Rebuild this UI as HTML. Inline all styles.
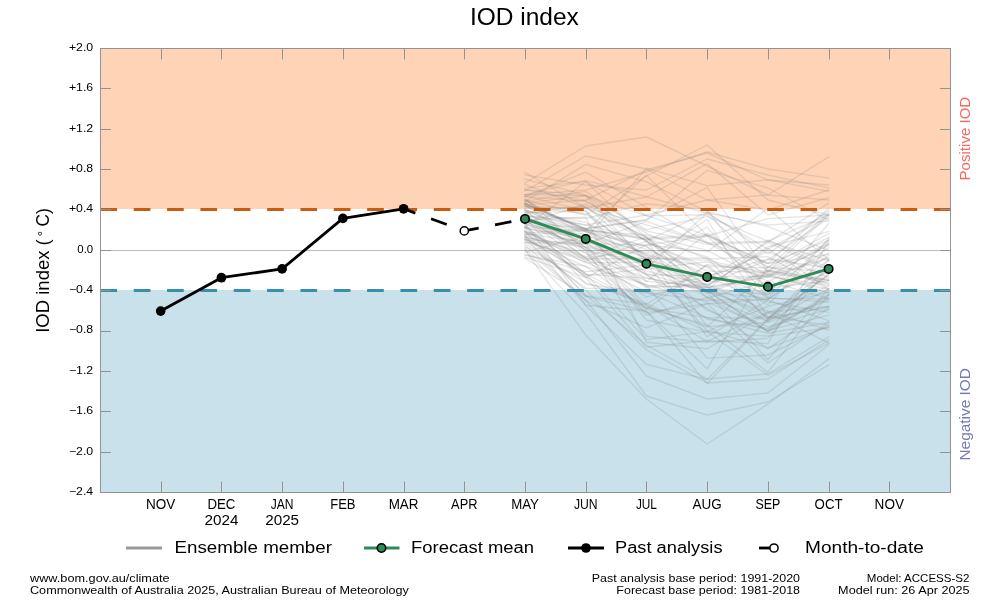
<!DOCTYPE html>
<html lang="en">
<head>
<meta charset="utf-8">
<title>IOD index</title>
<style>html,body{margin:0;padding:0;background:#fff;}body{width:1000px;height:600px;overflow:hidden;font-family:"Liberation Sans",sans-serif;}svg{display:block;will-change:transform;}</style>
</head>
<body>
<svg width="1000" height="600" viewBox="0 0 1000 600" font-family="'Liberation Sans', sans-serif">
<rect width="1000" height="600" fill="#fff"/>
<rect x="100.0" y="48.0" width="850.0" height="161.00" fill="#ffd3b5"/>
<rect x="100.0" y="290.00" width="850.0" height="202.00" fill="#c8e1ea"/>
<line x1="100.0" x2="950.0" y1="250.5" y2="250.5" stroke="#bcbcbc" stroke-width="1"/>
<g fill="none" stroke="#808080" stroke-opacity="0.2" stroke-width="1.4" stroke-linejoin="round" stroke-linecap="square">
<path d="M525.0,183.0 L585.7,146.0 L646.4,137.0 L707.1,166.0 L767.9,195.0 L828.6,200.0"/>
<path d="M525.0,191.0 L585.7,156.0 L646.4,169.0 L707.1,200.0 L767.9,210.0 L828.6,190.0"/>
<path d="M525.0,200.0 L585.7,215.0 L646.4,176.0 L707.1,145.0 L767.9,200.0 L828.6,215.0"/>
<path d="M525.0,195.0 L585.7,190.0 L646.4,172.0 L707.1,152.0 L767.9,169.0 L828.6,178.0"/>
<path d="M525.0,205.0 L585.7,200.0 L646.4,170.0 L707.1,153.0 L767.9,180.0 L828.6,185.0"/>
<path d="M525.0,215.0 L585.7,225.0 L646.4,215.0 L707.1,200.0 L767.9,195.0 L828.6,157.0"/>
<path d="M525.0,175.0 L585.7,185.0 L646.4,190.0 L707.1,159.0 L767.9,175.0 L828.6,188.0"/>
<path d="M525.0,250.0 L585.7,335.0 L646.4,399.0 L707.1,444.0 L767.9,404.0 L828.6,359.0"/>
<path d="M525.0,250.0 L585.7,313.0 L646.4,396.0 L707.1,415.0 L767.9,402.0 L828.6,365.0"/>
<path d="M525.0,245.0 L585.7,300.0 L646.4,376.0 L707.1,399.0 L767.9,393.0 L828.6,345.0"/>
<path d="M525.0,240.0 L585.7,290.0 L646.4,350.0 L707.1,383.0 L767.9,379.0 L828.6,340.0"/>
<path d="M525.0,235.0 L585.7,295.0 L646.4,345.0 L707.1,379.0 L767.9,374.0 L828.6,337.0"/>
<path d="M525.0,200.3 L585.7,231.9 L646.4,246.3 L707.1,285.6 L767.9,248.7 L828.6,288.6"/>
<path d="M525.0,238.5 L585.7,273.7 L646.4,339.6 L707.1,331.6 L767.9,375.3 L828.6,343.1"/>
<path d="M525.0,254.4 L585.7,271.7 L646.4,265.0 L707.1,330.4 L767.9,347.8 L828.6,326.7"/>
<path d="M525.0,239.7 L585.7,243.8 L646.4,271.2 L707.1,284.5 L767.9,259.9 L828.6,217.9"/>
<path d="M525.0,189.6 L585.7,200.7 L646.4,240.8 L707.1,271.1 L767.9,272.4 L828.6,243.2"/>
<path d="M525.0,203.5 L585.7,228.5 L646.4,220.2 L707.1,170.3 L767.9,188.0 L828.6,220.1"/>
<path d="M525.0,234.9 L585.7,258.6 L646.4,312.6 L707.1,303.7 L767.9,299.3 L828.6,260.2"/>
<path d="M525.0,239.2 L585.7,266.7 L646.4,284.7 L707.1,302.1 L767.9,326.8 L828.6,309.2"/>
<path d="M525.0,233.3 L585.7,228.8 L646.4,239.9 L707.1,326.7 L767.9,270.4 L828.6,279.7"/>
<path d="M525.0,184.5 L585.7,207.9 L646.4,237.0 L707.1,286.7 L767.9,246.8 L828.6,231.6"/>
<path d="M525.0,241.8 L585.7,259.3 L646.4,285.3 L707.1,358.1 L767.9,355.0 L828.6,325.5"/>
<path d="M525.0,216.6 L585.7,218.5 L646.4,203.7 L707.1,209.6 L767.9,290.5 L828.6,247.8"/>
<path d="M525.0,223.8 L585.7,246.7 L646.4,259.6 L707.1,219.5 L767.9,317.6 L828.6,268.3"/>
<path d="M525.0,206.1 L585.7,213.9 L646.4,256.5 L707.1,287.8 L767.9,276.8 L828.6,244.5"/>
<path d="M525.0,218.7 L585.7,239.9 L646.4,274.7 L707.1,276.1 L767.9,259.0 L828.6,267.9"/>
<path d="M525.0,228.1 L585.7,238.5 L646.4,274.5 L707.1,319.2 L767.9,328.4 L828.6,298.3"/>
<path d="M525.0,227.1 L585.7,231.1 L646.4,273.3 L707.1,291.9 L767.9,298.4 L828.6,299.1"/>
<path d="M525.0,212.4 L585.7,211.4 L646.4,259.7 L707.1,277.6 L767.9,275.8 L828.6,289.6"/>
<path d="M525.0,198.3 L585.7,250.8 L646.4,261.4 L707.1,227.0 L767.9,297.8 L828.6,239.8"/>
<path d="M525.0,219.9 L585.7,249.3 L646.4,308.8 L707.1,324.6 L767.9,372.4 L828.6,294.4"/>
<path d="M525.0,223.9 L585.7,203.9 L646.4,238.0 L707.1,234.8 L767.9,263.6 L828.6,254.5"/>
<path d="M525.0,196.4 L585.7,201.3 L646.4,230.9 L707.1,244.2 L767.9,242.2 L828.6,203.3"/>
<path d="M525.0,203.0 L585.7,195.8 L646.4,263.0 L707.1,297.0 L767.9,321.5 L828.6,274.5"/>
<path d="M525.0,228.1 L585.7,277.8 L646.4,244.7 L707.1,251.6 L767.9,208.5 L828.6,259.7"/>
<path d="M525.0,201.3 L585.7,164.4 L646.4,181.9 L707.1,211.6 L767.9,226.6 L828.6,250.7"/>
<path d="M525.0,237.1 L585.7,252.6 L646.4,297.1 L707.1,278.3 L767.9,242.4 L828.6,270.3"/>
<path d="M525.0,213.0 L585.7,240.2 L646.4,265.8 L707.1,292.4 L767.9,359.8 L828.6,288.8"/>
<path d="M525.0,196.7 L585.7,172.2 L646.4,207.3 L707.1,242.7 L767.9,275.1 L828.6,245.3"/>
<path d="M525.0,179.2 L585.7,195.1 L646.4,229.6 L707.1,216.6 L767.9,241.1 L828.6,260.7"/>
<path d="M525.0,236.9 L585.7,275.6 L646.4,268.9 L707.1,261.8 L767.9,276.9 L828.6,258.9"/>
<path d="M525.0,258.0 L585.7,296.4 L646.4,311.0 L707.1,368.8 L767.9,266.4 L828.6,284.0"/>
<path d="M525.0,203.7 L585.7,229.7 L646.4,238.7 L707.1,256.8 L767.9,297.8 L828.6,302.1"/>
<path d="M525.0,199.7 L585.7,235.7 L646.4,258.1 L707.1,290.7 L767.9,331.1 L828.6,266.0"/>
<path d="M525.0,231.1 L585.7,256.6 L646.4,237.1 L707.1,281.9 L767.9,275.3 L828.6,257.5"/>
<path d="M525.0,215.5 L585.7,253.1 L646.4,315.0 L707.1,297.4 L767.9,330.8 L828.6,294.3"/>
<path d="M525.0,210.5 L585.7,225.1 L646.4,239.4 L707.1,236.3 L767.9,288.3 L828.6,280.9"/>
<path d="M525.0,220.0 L585.7,261.1 L646.4,241.4 L707.1,278.6 L767.9,251.6 L828.6,277.8"/>
<path d="M525.0,233.8 L585.7,242.1 L646.4,274.8 L707.1,308.1 L767.9,348.7 L828.6,308.5"/>
<path d="M525.0,230.6 L585.7,262.9 L646.4,262.2 L707.1,290.7 L767.9,332.1 L828.6,295.5"/>
<path d="M525.0,208.1 L585.7,207.8 L646.4,240.8 L707.1,212.2 L767.9,253.9 L828.6,210.8"/>
<path d="M525.0,235.1 L585.7,230.5 L646.4,235.3 L707.1,250.4 L767.9,281.6 L828.6,253.2"/>
<path d="M525.0,215.3 L585.7,247.4 L646.4,281.4 L707.1,286.7 L767.9,321.2 L828.6,288.8"/>
<path d="M525.0,236.4 L585.7,305.4 L646.4,364.4 L707.1,379.5 L767.9,318.9 L828.6,273.9"/>
<path d="M525.0,172.3 L585.7,207.7 L646.4,197.0 L707.1,163.6 L767.9,214.8 L828.6,197.7"/>
<path d="M525.0,189.6 L585.7,195.4 L646.4,242.0 L707.1,267.3 L767.9,305.1 L828.6,238.8"/>
<path d="M525.0,218.6 L585.7,243.1 L646.4,245.1 L707.1,236.0 L767.9,218.6 L828.6,215.1"/>
<path d="M525.0,188.1 L585.7,181.4 L646.4,215.7 L707.1,235.2 L767.9,270.7 L828.6,237.3"/>
<path d="M525.0,227.7 L585.7,244.0 L646.4,221.3 L707.1,242.6 L767.9,263.6 L828.6,240.4"/>
<path d="M525.0,232.2 L585.7,257.7 L646.4,250.6 L707.1,290.3 L767.9,240.0 L828.6,268.0"/>
<path d="M525.0,227.1 L585.7,181.7 L646.4,237.5 L707.1,298.0 L767.9,281.2 L828.6,298.6"/>
<path d="M525.0,246.7 L585.7,282.6 L646.4,303.6 L707.1,331.4 L767.9,306.4 L828.6,292.2"/>
<path d="M525.0,242.5 L585.7,243.8 L646.4,320.0 L707.1,332.1 L767.9,336.1 L828.6,327.8"/>
<path d="M525.0,224.4 L585.7,234.9 L646.4,252.9 L707.1,293.4 L767.9,270.8 L828.6,280.6"/>
<path d="M525.0,213.4 L585.7,205.7 L646.4,258.4 L707.1,258.0 L767.9,319.8 L828.6,260.2"/>
<path d="M525.0,219.9 L585.7,217.1 L646.4,342.2 L707.1,348.8 L767.9,313.2 L828.6,286.0"/>
<path d="M525.0,194.6 L585.7,180.4 L646.4,196.7 L707.1,213.3 L767.9,249.2 L828.6,216.8"/>
<path d="M525.0,210.1 L585.7,258.8 L646.4,258.8 L707.1,260.1 L767.9,274.2 L828.6,292.9"/>
<path d="M525.0,218.0 L585.7,284.1 L646.4,292.8 L707.1,300.3 L767.9,299.3 L828.6,255.4"/>
<path d="M525.0,194.6 L585.7,195.7 L646.4,215.9 L707.1,214.7 L767.9,267.5 L828.6,271.3"/>
<path d="M525.0,225.9 L585.7,273.5 L646.4,306.6 L707.1,326.8 L767.9,322.3 L828.6,300.4"/>
<path d="M525.0,210.2 L585.7,222.4 L646.4,255.4 L707.1,266.6 L767.9,267.8 L828.6,213.0"/>
<path d="M525.0,201.2 L585.7,191.3 L646.4,233.4 L707.1,259.0 L767.9,256.6 L828.6,289.8"/>
<path d="M525.0,211.5 L585.7,230.4 L646.4,258.5 L707.1,310.4 L767.9,330.4 L828.6,315.3"/>
<path d="M525.0,220.9 L585.7,250.0 L646.4,336.2 L707.1,342.2 L767.9,338.2 L828.6,268.2"/>
<path d="M525.0,237.4 L585.7,247.3 L646.4,305.2 L707.1,341.7 L767.9,312.0 L828.6,306.6"/>
<path d="M525.0,215.1 L585.7,230.8 L646.4,175.3 L707.1,235.5 L767.9,263.1 L828.6,208.2"/>
<path d="M525.0,216.6 L585.7,257.8 L646.4,277.6 L707.1,290.6 L767.9,273.5 L828.6,280.2"/>
<path d="M525.0,206.7 L585.7,207.9 L646.4,224.9 L707.1,242.6 L767.9,241.3 L828.6,214.9"/>
<path d="M525.0,252.1 L585.7,236.5 L646.4,285.7 L707.1,287.5 L767.9,276.5 L828.6,285.2"/>
<path d="M525.0,222.0 L585.7,228.8 L646.4,246.6 L707.1,287.6 L767.9,294.7 L828.6,223.6"/>
<path d="M525.0,257.1 L585.7,277.3 L646.4,347.3 L707.1,340.5 L767.9,343.6 L828.6,241.5"/>
<path d="M525.0,255.2 L585.7,266.2 L646.4,309.2 L707.1,264.6 L767.9,271.3 L828.6,283.0"/>
<path d="M525.0,204.5 L585.7,247.7 L646.4,287.9 L707.1,284.2 L767.9,311.0 L828.6,330.0"/>
<path d="M525.0,231.3 L585.7,296.0 L646.4,304.5 L707.1,264.8 L767.9,318.6 L828.6,275.3"/>
<path d="M525.0,240.2 L585.7,261.9 L646.4,292.0 L707.1,317.7 L767.9,333.3 L828.6,322.4"/>
<path d="M525.0,248.3 L585.7,300.8 L646.4,327.9 L707.1,303.3 L767.9,363.0 L828.6,322.3"/>
<path d="M525.0,205.8 L585.7,229.1 L646.4,268.8 L707.1,212.9 L767.9,225.0 L828.6,221.2"/>
<path d="M525.0,231.9 L585.7,276.6 L646.4,308.0 L707.1,317.6 L767.9,317.9 L828.6,307.2"/>
<path d="M525.0,226.3 L585.7,274.4 L646.4,278.1 L707.1,289.4 L767.9,316.5 L828.6,325.3"/>
<path d="M525.0,196.0 L585.7,210.7 L646.4,281.6 L707.1,233.2 L767.9,267.5 L828.6,233.6"/>
<path d="M525.0,203.1 L585.7,230.0 L646.4,249.3 L707.1,274.4 L767.9,294.0 L828.6,272.3"/>
<path d="M525.0,223.4 L585.7,305.2 L646.4,311.3 L707.1,383.7 L767.9,319.4 L828.6,306.4"/>
<path d="M525.0,204.0 L585.7,228.7 L646.4,219.7 L707.1,187.3 L767.9,272.1 L828.6,214.7"/>
<path d="M525.0,218.7 L585.7,231.6 L646.4,254.0 L707.1,336.9 L767.9,300.1 L828.6,320.7"/>
<path d="M525.0,242.9 L585.7,288.2 L646.4,289.6 L707.1,291.3 L767.9,312.6 L828.6,342.7"/>
<path d="M525.0,209.3 L585.7,238.9 L646.4,168.1 L707.1,185.7 L767.9,179.8 L828.6,191.2"/>
<path d="M525.0,218.5 L585.7,242.6 L646.4,286.9 L707.1,277.2 L767.9,301.7 L828.6,312.2"/>
</g>
<line x1="100.0" x2="950.0" y1="209.5" y2="209.5" stroke="#c95d0f" stroke-width="3" stroke-dasharray="16.67 16.67" stroke-dashoffset="-0.4"/>
<line x1="100.0" x2="950.0" y1="290.5" y2="290.5" stroke="#3490ad" stroke-width="3" stroke-dasharray="16.67 16.67" stroke-dashoffset="-0.4"/>
<g stroke="#939393" stroke-width="1" fill="none">
<rect x="100.5" y="48.5" width="850.0" height="444.0"/>
<path d="M161.5,492.5 v-11 M161.5,48.5 v11"/>
<path d="M221.5,492.5 v-11 M221.5,48.5 v11"/>
<path d="M282.5,492.5 v-11 M282.5,48.5 v11"/>
<path d="M343.5,492.5 v-11 M343.5,48.5 v11"/>
<path d="M404.5,492.5 v-11 M404.5,48.5 v11"/>
<path d="M464.5,492.5 v-11 M464.5,48.5 v11"/>
<path d="M525.5,492.5 v-11 M525.5,48.5 v11"/>
<path d="M586.5,492.5 v-11 M586.5,48.5 v11"/>
<path d="M646.5,492.5 v-11 M646.5,48.5 v11"/>
<path d="M707.5,492.5 v-11 M707.5,48.5 v11"/>
<path d="M768.5,492.5 v-11 M768.5,48.5 v11"/>
<path d="M829.5,492.5 v-11 M829.5,48.5 v11"/>
<path d="M889.5,492.5 v-11 M889.5,48.5 v11"/>
<path d="M100.5,88.5 h10.5 M950.5,88.5 h-10.5"/>
<path d="M100.5,129.5 h10.5 M950.5,129.5 h-10.5"/>
<path d="M100.5,169.5 h10.5 M950.5,169.5 h-10.5"/>
<path d="M100.5,209.5 h10.5 M950.5,209.5 h-10.5"/>
<path d="M100.5,250.5 h10.5 M950.5,250.5 h-10.5"/>
<path d="M100.5,290.5 h10.5 M950.5,290.5 h-10.5"/>
<path d="M100.5,331.5 h10.5 M950.5,331.5 h-10.5"/>
<path d="M100.5,371.5 h10.5 M950.5,371.5 h-10.5"/>
<path d="M100.5,411.5 h10.5 M950.5,411.5 h-10.5"/>
<path d="M100.5,452.5 h10.5 M950.5,452.5 h-10.5"/>
</g>
<path d="M160.7,311.1 L221.4,277.7 L282.1,268.9 L342.9,218.4 L403.6,208.8" fill="none" stroke="#000" stroke-width="2.8" stroke-linejoin="round"/>
<path d="M403.6,208.8 L464.3,230.9 L525.0,218.9" fill="none" stroke="#000" stroke-width="2.8" stroke-dasharray="16.67 16.67" stroke-dashoffset="4.1"/>
<path d="M525.0,218.9 L585.7,238.9 L646.4,263.8 L707.1,276.9 L767.9,286.8 L828.6,268.9" fill="none" stroke="#2e8b57" stroke-width="2.8" stroke-linejoin="round"/>
<circle cx="160.7" cy="311.1" r="4.85" fill="#000"/>
<circle cx="221.4" cy="277.7" r="4.85" fill="#000"/>
<circle cx="282.1" cy="268.9" r="4.85" fill="#000"/>
<circle cx="342.9" cy="218.4" r="4.85" fill="#000"/>
<circle cx="403.6" cy="208.8" r="4.85" fill="#000"/>
<circle cx="464.3" cy="230.9" r="4.1" fill="#fff" stroke="#000" stroke-width="1.5"/>
<circle cx="525.0" cy="218.9" r="4.2" fill="#2e8b57" stroke="#000" stroke-width="1.6"/>
<circle cx="585.7" cy="238.9" r="4.2" fill="#2e8b57" stroke="#000" stroke-width="1.6"/>
<circle cx="646.4" cy="263.8" r="4.2" fill="#2e8b57" stroke="#000" stroke-width="1.6"/>
<circle cx="707.1" cy="276.9" r="4.2" fill="#2e8b57" stroke="#000" stroke-width="1.6"/>
<circle cx="767.9" cy="286.8" r="4.2" fill="#2e8b57" stroke="#000" stroke-width="1.6"/>
<circle cx="828.6" cy="268.9" r="4.2" fill="#2e8b57" stroke="#000" stroke-width="1.6"/>
<text x="524.40" y="25.20" font-size="23.91" text-anchor="middle" fill="#000" textLength="108.91" lengthAdjust="spacingAndGlyphs">IOD index</text>
<text x="93.20" y="50.90" font-size="10.58" text-anchor="end" fill="#000" textLength="24.28" lengthAdjust="spacingAndGlyphs">+2.0</text>
<text x="93.20" y="91.26" font-size="10.58" text-anchor="end" fill="#000" textLength="24.28" lengthAdjust="spacingAndGlyphs">+1.6</text>
<text x="93.20" y="131.63" font-size="10.58" text-anchor="end" fill="#000" textLength="24.28" lengthAdjust="spacingAndGlyphs">+1.2</text>
<text x="93.20" y="171.99" font-size="10.58" text-anchor="end" fill="#000" textLength="24.28" lengthAdjust="spacingAndGlyphs">+0.8</text>
<text x="93.20" y="212.35" font-size="10.58" text-anchor="end" fill="#000" textLength="24.28" lengthAdjust="spacingAndGlyphs">+0.4</text>
<text x="93.20" y="252.72" font-size="10.58" text-anchor="end" fill="#000" textLength="15.90" lengthAdjust="spacingAndGlyphs">0.0</text>
<text x="93.20" y="293.08" font-size="10.58" text-anchor="end" fill="#000" textLength="24.28" lengthAdjust="spacingAndGlyphs">−0.4</text>
<text x="93.20" y="333.45" font-size="10.58" text-anchor="end" fill="#000" textLength="24.28" lengthAdjust="spacingAndGlyphs">−0.8</text>
<text x="93.20" y="373.81" font-size="10.58" text-anchor="end" fill="#000" textLength="24.28" lengthAdjust="spacingAndGlyphs">−1.2</text>
<text x="93.20" y="414.17" font-size="10.58" text-anchor="end" fill="#000" textLength="24.28" lengthAdjust="spacingAndGlyphs">−1.6</text>
<text x="93.20" y="454.54" font-size="10.58" text-anchor="end" fill="#000" textLength="24.28" lengthAdjust="spacingAndGlyphs">−2.0</text>
<text x="93.20" y="494.90" font-size="10.58" text-anchor="end" fill="#000" textLength="24.28" lengthAdjust="spacingAndGlyphs">−2.4</text>
<text x="160.71" y="509.00" font-size="14.10" text-anchor="middle" fill="#000" textLength="29.35" lengthAdjust="spacingAndGlyphs">NOV</text>
<text x="221.43" y="509.00" font-size="14.10" text-anchor="middle" fill="#000" textLength="27.99" lengthAdjust="spacingAndGlyphs">DEC</text>
<text x="282.14" y="509.00" font-size="14.10" text-anchor="middle" fill="#000" textLength="22.79" lengthAdjust="spacingAndGlyphs">JAN</text>
<text x="342.86" y="509.00" font-size="14.10" text-anchor="middle" fill="#000" textLength="25.23" lengthAdjust="spacingAndGlyphs">FEB</text>
<text x="403.57" y="509.00" font-size="14.10" text-anchor="middle" fill="#000" textLength="29.88" lengthAdjust="spacingAndGlyphs">MAR</text>
<text x="464.29" y="509.00" font-size="14.10" text-anchor="middle" fill="#000" textLength="26.42" lengthAdjust="spacingAndGlyphs">APR</text>
<text x="525.00" y="509.00" font-size="14.10" text-anchor="middle" fill="#000" textLength="27.73" lengthAdjust="spacingAndGlyphs">MAY</text>
<text x="585.71" y="509.00" font-size="14.10" text-anchor="middle" fill="#000" textLength="23.66" lengthAdjust="spacingAndGlyphs">JUN</text>
<text x="646.43" y="509.00" font-size="14.10" text-anchor="middle" fill="#000" textLength="21.11" lengthAdjust="spacingAndGlyphs">JUL</text>
<text x="707.14" y="509.00" font-size="14.10" text-anchor="middle" fill="#000" textLength="29.20" lengthAdjust="spacingAndGlyphs">AUG</text>
<text x="767.86" y="509.00" font-size="14.10" text-anchor="middle" fill="#000" textLength="24.92" lengthAdjust="spacingAndGlyphs">SEP</text>
<text x="828.57" y="509.00" font-size="14.10" text-anchor="middle" fill="#000" textLength="27.94" lengthAdjust="spacingAndGlyphs">OCT</text>
<text x="889.29" y="509.00" font-size="14.10" text-anchor="middle" fill="#000" textLength="29.35" lengthAdjust="spacingAndGlyphs">NOV</text>
<text x="221.43" y="525.00" font-size="14.10" text-anchor="middle" fill="#000" textLength="33.92" lengthAdjust="spacingAndGlyphs">2024</text>
<text x="282.14" y="525.00" font-size="14.10" text-anchor="middle" fill="#000" textLength="33.92" lengthAdjust="spacingAndGlyphs">2025</text>
<g transform="translate(49.2,332.8) rotate(-90)">
<text x="0.00" y="0.00" font-size="17.64" text-anchor="start" fill="#000" textLength="93.58" lengthAdjust="spacingAndGlyphs">IOD index (</text>
</g>
<g transform="translate(49.2,236.2) rotate(-90)">
<text x="0" y="-2.6" font-size="13.5">°</text>
</g>
<g transform="translate(49.2,226.4) rotate(-90)">
<text x="0.00" y="0.00" font-size="17.64" text-anchor="start" fill="#000" textLength="18.14" lengthAdjust="spacingAndGlyphs">C)</text>
</g>
<g transform="translate(970.4,138.6) rotate(-90)">
<text x="0.00" y="0.00" font-size="14.70" text-anchor="middle" fill="#f46a61" textLength="83.69" lengthAdjust="spacingAndGlyphs">Positive IOD</text>
</g>
<g transform="translate(970.4,414.3) rotate(-90)">
<text x="0.00" y="0.00" font-size="14.70" text-anchor="middle" fill="#757ab6" textLength="92.48" lengthAdjust="spacingAndGlyphs">Negative IOD</text>
</g>
<line x1="126" x2="162" y1="548.0" y2="548.0" stroke="#999" stroke-width="2.8"/>
<text x="174.50" y="553.00" font-size="17.02" text-anchor="start" fill="#000" textLength="157.47" lengthAdjust="spacingAndGlyphs">Ensemble member</text>
<line x1="364" x2="399.5" y1="548.0" y2="548.0" stroke="#2e8b57" stroke-width="2.8"/>
<circle cx="381.5" cy="548.0" r="4.2" fill="#2e8b57" stroke="#000" stroke-width="1.6"/>
<text x="411.00" y="553.00" font-size="17.02" text-anchor="start" fill="#000" textLength="123.11" lengthAdjust="spacingAndGlyphs">Forecast mean</text>
<line x1="568" x2="604" y1="548.0" y2="548.0" stroke="#000" stroke-width="2.8"/>
<circle cx="586" cy="548.0" r="4.85" fill="#000"/>
<text x="615.00" y="553.00" font-size="17.02" text-anchor="start" fill="#000" textLength="107.53" lengthAdjust="spacingAndGlyphs">Past analysis</text>
<line x1="759" x2="770.5" y1="548.0" y2="548.0" stroke="#000" stroke-width="2.8"/>
<circle cx="774" cy="548.0" r="4.1" fill="#fff" stroke="#000" stroke-width="1.5"/>
<text x="805.00" y="553.00" font-size="17.02" text-anchor="start" fill="#000" textLength="118.91" lengthAdjust="spacingAndGlyphs">Month-to-date</text>
<text x="30.00" y="581.90" font-size="11.74" text-anchor="start" fill="#000" textLength="139.64" lengthAdjust="spacingAndGlyphs">www.bom.gov.au/climate</text>
<text x="30.00" y="594.30" font-size="11.74" text-anchor="start" fill="#000" textLength="378.90" lengthAdjust="spacingAndGlyphs">Commonwealth of Australia 2025, Australian Bureau of Meteorology</text>
<text x="800.00" y="581.90" font-size="11.74" text-anchor="end" fill="#000" textLength="208.25" lengthAdjust="spacingAndGlyphs">Past analysis base period: 1991-2020</text>
<text x="800.00" y="594.30" font-size="11.74" text-anchor="end" fill="#000" textLength="183.62" lengthAdjust="spacingAndGlyphs">Forecast base period: 1981-2018</text>
<text x="969.50" y="581.90" font-size="11.74" text-anchor="end" fill="#000" textLength="102.71" lengthAdjust="spacingAndGlyphs">Model: ACCESS-S2</text>
<text x="969.50" y="594.30" font-size="11.74" text-anchor="end" fill="#000" textLength="131.39" lengthAdjust="spacingAndGlyphs">Model run: 26 Apr 2025</text>
</svg>
</body>
</html>
